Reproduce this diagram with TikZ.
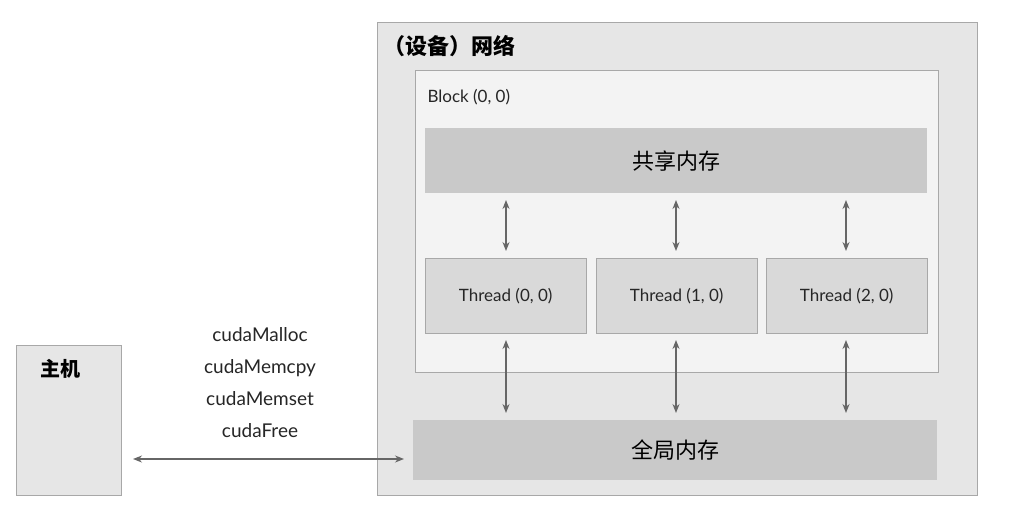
\documentclass[tikz,border=0pt]{standalone}
\usepackage{fontspec}
\setmainfont{Lato}
\newfontfamily\cjk{Noto Sans CJK SC}
\usetikzlibrary{arrows.meta}
\definecolor{outerfill}{HTML}{E6E6E6}
\definecolor{blockfill}{HTML}{F3F3F3}
\definecolor{memfill}{HTML}{C9C9C9}
\definecolor{thrfill}{HTML}{D9D9D9}
\definecolor{edge}{HTML}{A8A8A8}
\definecolor{arr}{HTML}{666666}
\begin{document}
\begin{tikzpicture}[x=1pt,y=-1pt,
  box/.style={draw=edge,line width=1pt},
  con/.style={draw=arr,line width=1.4pt,{Stealth[length=9pt,width=7pt]}-{Stealth[length=9pt,width=7pt]}},
  lbl/.style={font=\fontsize{17}{19}\selectfont,text=black!85}]
\useasboundingbox[fill=white] (0,0) rectangle (1010,509);
\node[box,fill=outerfill,minimum width=600,minimum height=473,anchor=north west] (dev) at (377,22) {};
\node[anchor=west,font=\cjk\bfseries\fontsize{22}{24}\selectfont] (devt) at (380,46) {（设备）网络};
\node[box,fill=blockfill,minimum width=523,minimum height=302,anchor=north west] (blk) at (415,70) {};
\node[lbl,anchor=west] (blkt) at (424,97) {Block (0, 0)};
\node[fill=memfill,minimum width=502,minimum height=65,anchor=north west,font=\cjk\fontsize{22}{24}\selectfont] (sh) at (425,128) {};
\node[font=\cjk\fontsize{22}{24}\selectfont] at (sh.center) {共享内存};
\foreach \i/\x in {0/425,1/596,2/766}{
  \node[fill=thrfill,draw=edge,minimum width=161,minimum height=75,anchor=north west] (t\i) at (\x,258) {};
  \node[lbl] at (t\i.center) {Thread (\i, 0)};
}
\node[fill=memfill,minimum width=524,minimum height=60,anchor=north west] (gl) at (413,420) {};
\node[font=\cjk\fontsize{22}{24}\selectfont] at (gl.center) {全局内存};
\node[box,fill=outerfill,minimum width=105,minimum height=150,anchor=north west] (host) at (16,345) {};
\node[font=\cjk\bfseries\fontsize{20}{22}\selectfont] at (60,369) {主机};
\foreach \i/\x in {0/506,1/676,2/846}{
  \coordinate (a\i) at (\x,200); \coordinate (b\i) at (\x,251);
  \coordinate (c\i) at (\x,340); \coordinate (d\i) at (\x,413);
  \draw[con] (a\i) -- (b\i);
  \draw[con] (c\i) -- (d\i);
}
\coordinate (h1) at (133,459); \coordinate (h2) at (404,459);
\draw[con] (h1) -- (h2);
\node[lbl,align=center,font=\fontsize{19}{32}\selectfont] (calls) at (260,383) {cudaMalloc\\cudaMemcpy\\cudaMemset\\cudaFree};
\end{tikzpicture}
\end{document}
